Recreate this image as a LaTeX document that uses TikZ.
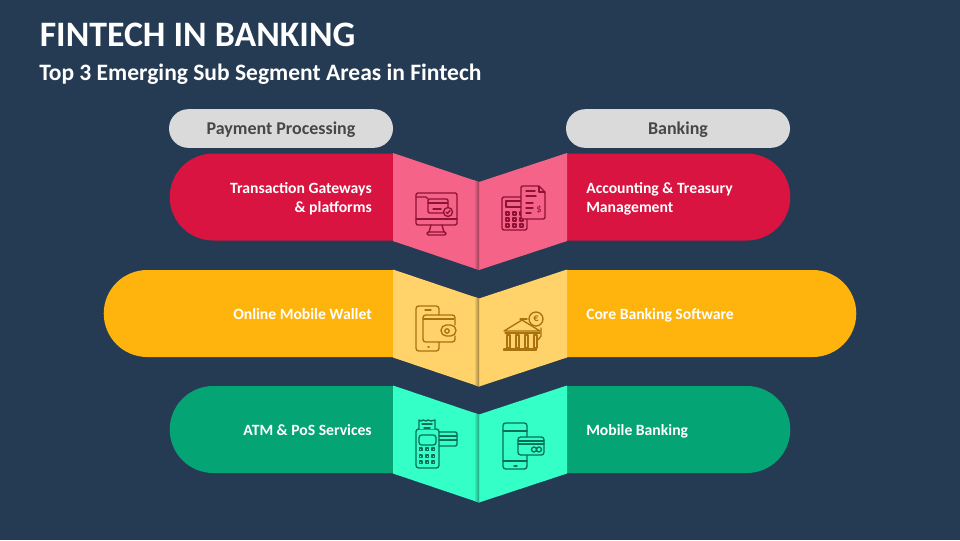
\documentclass[tikz,border=0pt]{standalone}
\usepackage{fontspec}
\setmainfont{Carlito}
\usetikzlibrary{positioning}
\usetikzlibrary{shapes.misc}
\definecolor{bgblue}{HTML}{253B54}
\definecolor{redbar}{HTML}{DA1440}
\definecolor{redfold}{HTML}{F56388}
\definecolor{redicon}{HTML}{8E1233}
\definecolor{yelbar}{HTML}{FFB40D}
\definecolor{yelfold}{HTML}{FFD26A}
\definecolor{yelicon}{HTML}{A8730F}
\definecolor{grnbar}{HTML}{05A475}
\definecolor{grnfold}{HTML}{33FFC6}
\definecolor{grnicon}{HTML}{0B6F5A}
\definecolor{capgray}{HTML}{DADADA}
\tikzset{x=0.75pt,y=-0.75pt,
  leftbar/.style={rounded rectangle,rounded rectangle east arc=none,minimum height=65.25pt,inner sep=0pt,anchor=east},
  rightbar/.style={rounded rectangle,rounded rectangle west arc=none,minimum height=65.25pt,inner sep=0pt,anchor=west},
  barleft/.style={text=white,font=\fontsize{11.75pt}{14.2pt}\selectfont\bfseries,align=right,anchor=east,inner sep=0pt},
  barright/.style={text=white,font=\fontsize{11.75pt}{14.2pt}\selectfont\bfseries,align=left,anchor=west,inner sep=0pt},
  capnode/.style={rounded rectangle,fill=capgray,text=black!72,minimum width=168pt,minimum height=29pt,inner sep=0pt,text height=9.4pt,text depth=0pt,font=\fontsize{13.5pt}{14pt}\selectfont\bfseries},
  icon/.style={line width=1pt,line join=round,line cap=round}}
\begin{document}
\begin{tikzpicture}
\fill[bgblue] (0,0) rectangle (960,540);
\useasboundingbox (0,0) rectangle (960,540);

\node (title) [anchor=west,inner sep=0pt,text=white,font=\fontsize{26.85pt}{28pt}\selectfont\bfseries] at (39.5,35) {FINTECH IN BANKING};
\node (subtitle) [anchor=west,inner sep=0pt,text=white,font=\fontsize{17.65pt}{20pt}\selectfont\bfseries] at (39,74.5) {Top 3 Emerging Sub Segment Areas in Fintech};

\node (capl) [capnode] at (281,128.5) {Payment Processing};
\node (capr) [capnode] at (678,128.5) {Banking};

% bars, row by row
\foreach \rowy/\xl/\xr/\barc/\foldc/\rowname in {197/170/790/redbar/redfold/a,313.5/104/856/yelbar/yelfold/b,429.5/170/790/grnbar/grnfold/c}{
  \node (bl\rowname) [leftbar,fill=\barc,minimum width={(395-\xl)*0.75pt}] at (395,\rowy) {};
  \node (br\rowname) [rightbar,fill=\barc,minimum width={(\xr-565)*0.75pt}] at (565,\rowy) {};
  \fill[\foldc] (393,\rowy-44) -- (479,\rowy-15) -- (567,\rowy-44) -- (567,\rowy+44) -- (479,\rowy+73) -- (393,\rowy+44) -- cycle;
  \begin{scope}
    \clip (393,\rowy-44) -- (479,\rowy-15) -- (479,\rowy+73) -- (393,\rowy+44) -- cycle;
    \shade[left color=\foldc,right color=black!45!\foldc] (474,\rowy-20) rectangle (480,\rowy+75);
  \end{scope}
}

\node (tl1) [barleft] at (372,198.5) {Transaction Gateways\\\& platforms};
\node (tr1) [barright] at (586,198.5) {Accounting \& Treasury\\Management};
\node (tl2) [barleft] at (372,314.3) {Online Mobile Wallet};
\node (tr2) [barright] at (586,315) {Core Banking Software};
\node (tl3) [barleft] at (372,430.3) {ATM \& PoS Services};
\node (tr3) [barright] at (586,431) {Mobile Banking};

% monitor with card
\begin{scope}[icon,draw=redicon]
\draw[rounded corners=1.5pt] (416,193) rectangle (457,225);
\draw (416,219) -- (457,219);
\draw (431,225) -- (429,232) (442,225) -- (444,232);
\draw[rounded corners=1pt] (427,232) rectangle (446,235);
\draw (416,197) -- (426,197) -- (428,199);
\draw[rounded corners=1pt] (428,199) rectangle (448,213);
\draw (428,203) -- (448,203) (433,209) -- (441,209);
\draw[fill=redfold] (448,212) circle (4.5);
\draw (446,212) -- (447.5,213.5) -- (450,210.5);
% calculator and invoice
\draw[rounded corners=1.5pt] (502,197) rectangle (527,230);
\draw (506,201) rectangle (523,207);
\foreach \cx in {506,513,520}\foreach \cy in {212,218,224}{\draw (\cx,\cy) rectangle +(3,3);}
\draw[fill=redfold,rounded corners=1pt] (521,186) -- (539,186) -- (545,192) -- (545,219) -- (521,219) -- cycle;
\draw (539,186) -- (539,192) -- (545,192);
\draw (526,191) -- (535,191) (526,196) -- (536,196) (526,203) -- (533,203) (526,208) -- (533,208) (526,213) -- (531,213);
\node (dollar) [inner sep=0pt,text=redicon,font=\fontsize{8pt}{8pt}\selectfont] at (539,210) {\$};
\end{scope}

% phone with wallet
\begin{scope}[icon,draw=yelicon]
\draw[rounded corners=2pt] (439,315) -- (439,306) -- (416,306) -- (416,351) -- (439,351) -- (439,342);
\draw (425,310) -- (431,310);
\draw (428,347) -- (429,347);
\draw[rounded corners=2pt] (455,325) -- (455,315) -- (423,315) -- (423,342) -- (455,342) -- (455,336);
\draw (423,319) -- (454,319);
\draw[rounded corners=4pt] (456,325) rectangle (441,336);
\draw (447,331) circle (2.2);
% bank and euro
\draw (504,331) -- (522,320) -- (540,331) -- cycle;
\draw (505,333) -- (540,333);
\foreach \cx in {507,516,525,534}{\draw (\cx,335) rectangle +(3,13);}
\draw (504,349) rectangle (536,350.5);
\draw (520,319) -- (527,319);
\draw (541,328) -- (541,336) -- (538,340);
\draw (536,319) circle (7);
\node (euro) [inner sep=0pt,text=yelicon,font=\fontsize{8pt}{8pt}\selectfont\bfseries] at (536,319) {€};
\end{scope}

% card terminal
\begin{scope}[icon,draw=grnicon]
\draw[rounded corners=2pt] (416,429) rectangle (439,468);
\draw[rounded corners=2pt] (419,435) rectangle (436,445);
\foreach \cx in {419.5,426,432}\foreach \cy in {448,455,461}{\draw (\cx,\cy) rectangle +(2.5,2.5);}
\draw[fill=grnfold] (419,429) -- (419,420) -- (421,421) -- (423,420) -- (426,421) -- (428,420) -- (431,421) -- (435,420) -- (435,429);
\draw (422,424) -- (432,424) (424,428) -- (430,428);
\draw[rounded corners=1pt] (439,432) -- (457,432) -- (457,446) -- (439,446);
\draw (439,436) -- (457,436) (439,440) -- (457,440);
% phone with card
\draw[rounded corners=2pt] (503,423) rectangle (527,469);
\draw (503,431) -- (527,431) (503,461) -- (527,461);
\draw (514,466) -- (517,466);
\draw[fill=grnfold,rounded corners=2pt] (518,437) rectangle (544,455);
\draw (518,441) -- (544,441) (518,444) -- (544,444);
\draw (534,449.5) circle (2.5) (539,449.5) circle (2.5);
\end{scope}
\end{tikzpicture}
\end{document}
